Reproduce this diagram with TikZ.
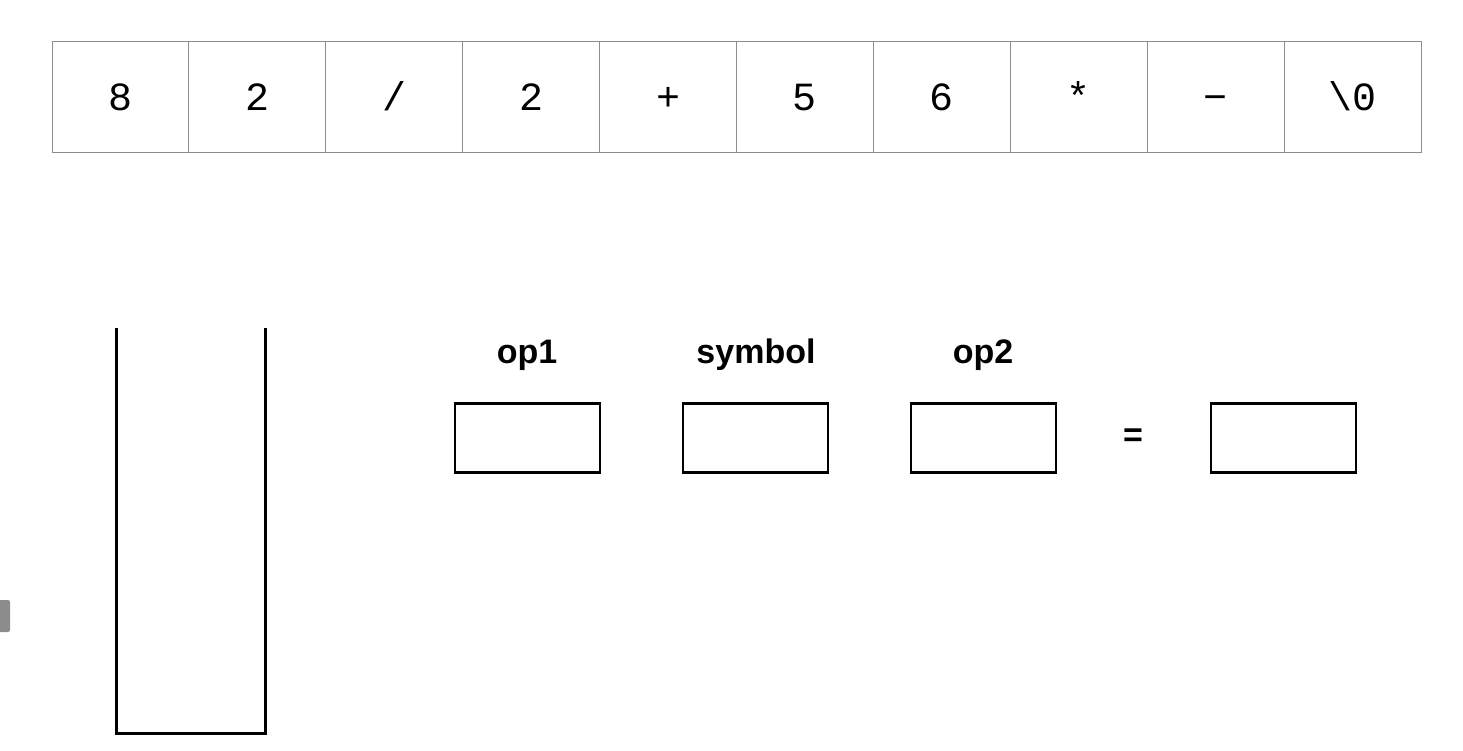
\documentclass[tikz,border=0pt]{standalone}
\usepackage{fontspec}
\setmainfont{Liberation Sans}
\newfontfamily\cellfont{Liberation Mono}
\begin{document}
\begin{tikzpicture}[x=1pt,y=-1pt,
  cell/.style={draw=black!45, line width=1pt, minimum width=136.9pt, minimum height=111pt, inner sep=0pt, outer sep=0pt, text height=33pt, text depth=6pt, font=\cellfont\fontsize{40}{40}\selectfont},
  slot/.style={draw=black, line width=2.5pt, minimum width=145pt, minimum height=69pt, inner sep=0pt},
  lbl/.style={font=\bfseries\fontsize{34}{34}\selectfont, inner sep=0pt},
  stackwall/.style={draw=black, line width=3pt}
]
\useasboundingbox (0,0) rectangle (1463,750);
% top array
\foreach \t [count=\i from 0] in {8,2,/,2,+,5,6,*,−,{\textbackslash0}} {
  \node[cell] (c\i) at (52+68.45+136.9*\i, 96.5) {\t};
}
% stack
\coordinate (stl) at (116,328);
\coordinate (sbl) at (116,733);
\coordinate (sbr) at (265,733);
\coordinate (str) at (265,328);
\draw[stackwall] (stl) -- (sbl) -- (sbr) -- (str);
% slots
\node[slot] (op1) at (527.5,438) {};
\node[slot] (sym) at (755.5,438) {};
\node[slot] (op2) at (983.5,438) {};
\node[slot] (res) at (1283.5,438) {};
\node[lbl, anchor=base] (lop1) at (527,363) {op1};
\node[lbl, anchor=base] (lsym) at (756,363) {symbol};
\node[lbl, anchor=base] (lop2) at (983,363) {op2};
\node[lbl] (eq) at (1133,438) {=};
% small gray tab at left edge
\fill[black!45, rounded corners=2pt] (-6,600) rectangle (10,632);
\end{tikzpicture}
\end{document}
